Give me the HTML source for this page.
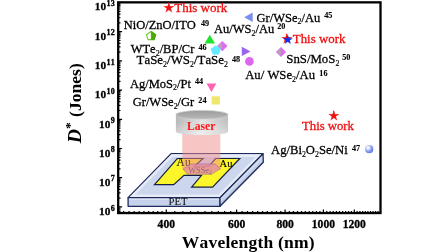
<!DOCTYPE html>
<html><head><meta charset="utf-8"><title>Detectivity vs Wavelength</title>
<style>
html,body{margin:0;padding:0;background:#fff;}
body{width:448px;height:252px;overflow:hidden;position:relative;font-family:"Liberation Serif",serif;}
svg{position:absolute;left:0;top:0;display:block}
text{font-family:"Liberation Serif",serif;font-kerning:none;}
.b{font-weight:bold}
.tl{stroke:#000;stroke-width:0.3px}
.lab{fill:#000;stroke:#000;stroke-width:0.28px}
.sup{font-size:8.2px;fill:#000;font-weight:bold;stroke-width:0.1px}
.sub{font-size:7.9px;stroke-width:0.15px}
.red{fill:#f01010;stroke:#f01010;stroke-width:0.3px}
</style></head><body>
<svg width="448" height="252" viewBox="0 0 448 252">
<defs>
<linearGradient id="cyl" x1="0" y1="0" x2="1" y2="0"><stop offset="0" stop-color="#b8b8b8"/><stop offset="0.5" stop-color="#e4e4e4"/><stop offset="1" stop-color="#c0c0c0"/></linearGradient>
<linearGradient id="cyltop" x1="0" y1="0" x2="0" y2="1"><stop offset="0" stop-color="#9c9c9c"/><stop offset="1" stop-color="#b8b8b8"/></linearGradient>
<linearGradient id="side" gradientUnits="userSpaceOnUse" x1="240" y1="176" x2="246" y2="182"><stop offset="0" stop-color="#e4eaf6"/><stop offset="0.45" stop-color="#ccd6ec"/><stop offset="1" stop-color="#a3b2d3"/></linearGradient>
<linearGradient id="cylv" x1="0" y1="0" x2="0" y2="1"><stop offset="0.35" stop-color="#fff" stop-opacity="0"/><stop offset="1" stop-color="#fff" stop-opacity="0.4"/></linearGradient>
<radialGradient id="ball" cx="0.36" cy="0.32" r="0.7"><stop offset="0" stop-color="#ffffff"/><stop offset="0.25" stop-color="#dfe5ff"/><stop offset="0.6" stop-color="#8c9ff0"/><stop offset="1" stop-color="#5f78e6"/></radialGradient>
</defs>
<rect x="0" y="0" width="448" height="252" fill="#fff"/>

<path d="M166.30 212.7V209.5 M236.60 212.7V209.5 M285.10 212.7V209.5 M323.40 212.7V209.5 M354.30 212.7V209.5 M123.68 212.7V210.9 M128.99 212.7V210.9 M134.14 212.7V210.9 M139.13 212.7V210.9 M143.97 212.7V210.9 M148.68 212.7V210.9 M153.26 212.7V210.9 M157.72 212.7V210.9 M162.07 212.7V210.9 M174.76 212.7V210.9 M182.82 212.7V210.9 M190.53 212.7V210.9 M197.91 212.7V210.9 M204.99 212.7V210.9 M211.79 212.7V210.9 M218.33 212.7V210.9 M224.64 212.7V210.9 M230.72 212.7V210.9 M242.13 212.7V210.9 M247.48 212.7V210.9 M252.67 212.7V210.9 M257.70 212.7V210.9 M262.59 212.7V210.9 M267.34 212.7V210.9 M271.96 212.7V210.9 M276.45 212.7V210.9 M280.83 212.7V210.9 M289.34 212.7V210.9 M293.47 212.7V210.9 M297.51 212.7V210.9 M301.46 212.7V210.9 M305.32 212.7V210.9 M309.09 212.7V210.9 M312.78 212.7V210.9 M316.39 212.7V210.9 M319.93 212.7V210.9 M326.76 212.7V210.9 M330.05 212.7V210.9 M333.28 212.7V210.9 M336.44 212.7V210.9 M339.55 212.7V210.9 M342.61 212.7V210.9 M345.61 212.7V210.9 M348.55 212.7V210.9 M351.45 212.7V210.9 M357.11 212.7V210.9 M359.87 212.7V210.9 M362.59 212.7V210.9 M365.27 212.7V210.9 M367.90 212.7V210.9 M370.50 212.7V210.9 M373.06 212.7V210.9 M375.57 212.7V210.9 M378.05 212.7V210.9" stroke="#000" stroke-width="1.2" fill="none"/>
<path d="M118.2 206.90H122.1 M118.2 198.11H120.5 M118.2 192.97H120.5 M118.2 189.32H120.5 M118.2 186.49H120.5 M118.2 184.18H120.5 M118.2 182.22H120.5 M118.2 180.53H120.5 M118.2 179.04H120.5 M118.2 177.70H122.1 M118.2 168.91H120.5 M118.2 163.77H120.5 M118.2 160.12H120.5 M118.2 157.29H120.5 M118.2 154.98H120.5 M118.2 153.02H120.5 M118.2 151.33H120.5 M118.2 149.84H120.5 M118.2 148.50H122.1 M118.2 139.71H120.5 M118.2 134.57H120.5 M118.2 130.92H120.5 M118.2 128.09H120.5 M118.2 125.78H120.5 M118.2 123.82H120.5 M118.2 122.13H120.5 M118.2 120.64H120.5 M118.2 119.30H122.1 M118.2 110.51H120.5 M118.2 105.37H120.5 M118.2 101.72H120.5 M118.2 98.89H120.5 M118.2 96.58H120.5 M118.2 94.62H120.5 M118.2 92.93H120.5 M118.2 91.44H120.5 M118.2 90.10H122.1 M118.2 81.31H120.5 M118.2 76.17H120.5 M118.2 72.52H120.5 M118.2 69.69H120.5 M118.2 67.38H120.5 M118.2 65.42H120.5 M118.2 63.73H120.5 M118.2 62.24H120.5 M118.2 60.90H122.1 M118.2 52.11H120.5 M118.2 46.97H120.5 M118.2 43.32H120.5 M118.2 40.49H120.5 M118.2 38.18H120.5 M118.2 36.22H120.5 M118.2 34.53H120.5 M118.2 33.04H120.5 M118.2 31.70H122.1 M118.2 22.91H120.5 M118.2 17.77H120.5 M118.2 14.12H120.5 M118.2 11.29H120.5 M118.2 8.98H120.5 M118.2 7.02H120.5 M118.2 5.33H120.5 M118.2 3.84H120.5 M118.2 2.50H122.1 M118.2 211.42H120.5 M118.2 209.73H120.5 M118.2 208.24H120.5" stroke="#000" stroke-width="1.2" fill="none"/>
<rect x="118.2" y="2.35" width="262.3" height="210.7" fill="none" stroke="#000" stroke-width="2.3"/>
<text class="b tl" x="166.3" y="227.8" font-size="11.6" text-anchor="middle">400</text>
<text class="b tl" x="236.6" y="227.8" font-size="11.6" text-anchor="middle">600</text>
<text class="b tl" x="285.1" y="227.8" font-size="11.6" text-anchor="middle">800</text>
<text class="b tl" x="323.4" y="227.8" font-size="11.6" text-anchor="middle">1000</text>
<text class="b tl" x="354.3" y="227.8" font-size="11.6" text-anchor="middle">1200</text>
<text class="b" x="248.3" y="248.2" font-size="17.5" letter-spacing="0.22" text-anchor="middle">Wavelength (nm)</text>
<text class="b tl" x="115" y="215.1" font-size="11.3" letter-spacing="0.25" text-anchor="end">10<tspan dy="-4.5" font-size="8">6</tspan></text>
<text class="b tl" x="115" y="185.9" font-size="11.3" letter-spacing="0.25" text-anchor="end">10<tspan dy="-4.5" font-size="8">7</tspan></text>
<text class="b tl" x="115" y="156.7" font-size="11.3" letter-spacing="0.25" text-anchor="end">10<tspan dy="-4.5" font-size="8">8</tspan></text>
<text class="b tl" x="115" y="127.5" font-size="11.3" letter-spacing="0.25" text-anchor="end">10<tspan dy="-4.5" font-size="8">9</tspan></text>
<text class="b tl" x="115" y="98.3" font-size="11.3" letter-spacing="0.25" text-anchor="end">10<tspan dy="-4.5" font-size="8">10</tspan></text>
<text class="b tl" x="115" y="69.1" font-size="11.3" letter-spacing="0.25" text-anchor="end">10<tspan dy="-4.5" font-size="8">11</tspan></text>
<text class="b tl" x="115" y="39.9" font-size="11.3" letter-spacing="0.25" text-anchor="end">10<tspan dy="-4.5" font-size="8">12</tspan></text>
<text class="b tl" x="115" y="10.2" font-size="11.3" letter-spacing="0.25" text-anchor="end">10<tspan dy="-4.5" font-size="8">13</tspan></text>
<text class="b" transform="translate(81.3,103.2) rotate(-90)" font-size="17.6" text-anchor="middle"><tspan font-style="italic" font-size="19.8">D</tspan><tspan dy="-7.6" font-size="13.5">*</tspan><tspan dy="7.6" dx="0.8"> (Jones)</tspan></text><!-- illustration: substrate -->
<g id="device">
<polygon points="128.1,197.7 171.1,153.7 263,153.7 220,197.7" fill="#ccd6ec" stroke="#1c2b5c" stroke-width="1.3" stroke-linejoin="round"/>
<polygon points="132.4,195.9 172,155.6 258.6,155.6 219,195.9" fill="none" stroke="#e6ebf7" stroke-width="2.6"/>
<polygon points="128.1,197.7 220,197.7 220,206.3 128.1,206.3" fill="#c6d2eb" stroke="#1c2b5c" stroke-width="1.3" stroke-linejoin="round"/>
<path d="M129 199.2H219.2" stroke="#e3e9f6" stroke-width="1"/>
<polygon points="220,197.7 263,153.7 263.3,162.3 220,206.3" fill="url(#side)" stroke="#1c2b5c" stroke-width="1.3" stroke-linejoin="round"/>
<polygon points="177.3,158.5 203,158.5 194.2,166.3 208.9,166.3 215.6,158.5 239.8,158.5 212.6,187.2 191.6,187.2 201.5,175.3 184,175.3 173.7,184.6 154.5,184.6" fill="#fbf52a" stroke="#16204a" stroke-width="1.2" stroke-linejoin="miter"/>
<text x="176.6" y="166.4" font-size="11.5" stroke="#000" stroke-width="0.12">Au</text>
<text x="219.6" y="166.6" font-size="10.5" stroke="#000" stroke-width="0.12">Au</text>
<text x="178" y="205.3" font-size="10.6" text-anchor="middle" >PET</text>
</g>
<!-- laser beam -->
<rect x="182.3" y="132" width="38" height="38" fill="#f28c8c" fill-opacity="0.5"/>
<path d="M183.2 169L190.5 164H215L220.4 168.6L211.5 174.3H187.5Z" fill="#e8919f" fill-opacity="0.82" stroke="#7d4fa0" stroke-opacity="0.6" stroke-width="0.7"/>
<text x="200" y="172.6" font-size="8.4" text-anchor="middle" fill="#8c5f80" fill-opacity="0.95">WSSe<tspan dy="1.5" font-size="5.6">2</tspan></text>
<!-- laser cylinder -->
<g id="laser">
<path d="M175.9 114.7V131.6A26.05 3.4 0 0 0 228 131.6V114.7Z" fill="url(#cyl)"/>
<path d="M175.9 114.7V131.6A26.05 3.4 0 0 0 228 131.6V114.7Z" fill="url(#cylv)"/>
<ellipse cx="201.95" cy="114.7" rx="26.05" ry="4.3" fill="url(#cyltop)" stroke="#c9c9c9" stroke-width="0.6"/>
<text x="201.2" y="129.7" font-size="11.6" text-anchor="middle" fill="#ff1515" class="b">Laser</text>
</g>
<!-- markers -->
<g id="markers">
<polygon points="151.1,31.5 155.8,34.7 154.2,39.6 148,39.6 146.4,34.7" fill="#fff" stroke="#6cc820" stroke-width="1.05" stroke-linejoin="round"/>
<polygon points="151.4,31.5 155.8,34.7 154.2,39.6 151.4,39.6" fill="#4aa808" stroke="#4aa808" stroke-width="1" stroke-linejoin="round"/>
<polygon points="209.8,34.8 215,43.6 204.6,43.6" fill="#1fe42c"/>
<polygon points="222.3,40.9 227.5,46.1 222.3,51.3 217.1,46.1" fill="#dd6cee"/>
<polygon points="221.9,42.6 221.9,49.6 218.4,46.1" fill="#a9b3a4"/>
<polygon points="215.8,45.2 220.9,48.9 218.9,54.6 212.7,54.6 210.7,48.9" fill="#63eaff"/>
<polygon points="252.7,12.6 252.7,22 244.2,17.3" fill="#7b8df2"/>
<polygon points="241.8,46.8 250.5,51.4 241.8,56" fill="#9b62f2"/>
<circle cx="249.4" cy="61.4" r="4.3" fill="#dd66ee"/>
<polygon points="281,46.9 286.1,52 281,57.1 275.9,52" fill="#dd6cee"/>
<polygon points="280.6,48.6 280.6,55.4 277.2,52" fill="#a9b3a4"/>
<polygon points="206.5,83.6 216.4,83.6 211.45,92.1" fill="#ff62b4"/>
<rect x="211.7" y="96.3" width="8.2" height="8.2" fill="#efe66e"/>
<circle cx="369.2" cy="149.2" r="4.1" fill="url(#ball)"/>
</g>
<g id="stars">
<text x="169.3" y="12.3" font-size="13.4" text-anchor="middle" class="red">★</text>
<text x="287" y="42.6" font-size="13.4" text-anchor="middle" class="red">★</text>
<text x="287.6" y="44.2" font-size="13.4" text-anchor="middle" fill="#1030e8">★</text>
<text x="333.8" y="119.6" font-size="13.2" text-anchor="middle" class="red">★</text>
</g>
<!-- labels -->
<g id="labels">
<text x="174.2" y="12" font-size="13" class="red">This work</text>
<text x="292.8" y="42.8" font-size="12.9" class="red">This work</text>
<text x="302.1" y="129.7" font-size="12.7" class="red">This work</text>
<text class="lab" id="l1" x="123.7" y="28.8" font-size="12.5"><tspan id="l1p0">NiO/ZnO/ITO</tspan><tspan id="l1p1" class="sup" dx="5" dy="-3.30">49</tspan></text>
<text class="lab" id="l2" x="130.7" y="52.8" font-size="12.5"><tspan id="l2p0">WTe</tspan><tspan id="l2p1" class="sub" dy="2.80">2</tspan><tspan id="l2p2" dy="-2.80">/BP/Cr</tspan><tspan id="l2p3" class="sup" dx="4" dy="-3.10">46</tspan></text>
<text class="lab" id="l3" x="136.6" y="64.0" font-size="12.9"><tspan id="l3p0">TaSe</tspan><tspan id="l3p1" class="sub" dy="3.40">2</tspan><tspan id="l3p2" dy="-3.40">/WS</tspan><tspan id="l3p3" class="sub" dy="3.40">2</tspan><tspan id="l3p4" dy="-3.40">/TaSe</tspan><tspan id="l3p5" class="sub" dy="3.40">2</tspan><tspan id="l3p6" class="sup" dx="4" dy="-5.80">48</tspan></text>
<text class="lab" id="l4" x="130.0" y="87.5" font-size="12.5"><tspan id="l4p0">Ag/MoS</tspan><tspan id="l4p1" class="sub" dy="2.80">2</tspan><tspan id="l4p2" dy="-2.80">/Pt</tspan><tspan id="l4p3" class="sup" dx="4" dy="-3.10">44</tspan></text>
<text class="lab" id="l5" x="132.7" y="106.2" font-size="12.5"><tspan id="l5p0">Gr/WSe</tspan><tspan id="l5p1" class="sub" dy="2.80">2</tspan><tspan id="l5p2" dy="-2.80">/Gr</tspan><tspan id="l5p3" class="sup" dx="4" dy="-3.10">24</tspan></text>
<text class="lab" id="l6" x="256.6" y="21.5" font-size="12.5"><tspan id="l6p0">Gr/WSe</tspan><tspan id="l6p1" class="sub" dy="2.80">2</tspan><tspan id="l6p2" dy="-2.80">/Au</tspan><tspan id="l6p3" class="sup" dx="4" dy="-3.60">45</tspan></text>
<text class="lab" id="l7" x="214.0" y="32.8" font-size="12.5"><tspan id="l7p0">Au/WS</tspan><tspan id="l7p1" class="sub" dy="2.80">2</tspan><tspan id="l7p2" dy="-2.80">/Au</tspan><tspan id="l7p3" class="sup" dx="3" dy="-3.60">20</tspan></text>
<text class="lab" id="l8" x="286.3" y="62.5" font-size="12.8"><tspan id="l8p0">SnS/MoS</tspan><tspan id="l8p1" class="sub" dy="3.40">2</tspan><tspan id="l8p2" class="sup" dx="2.8" dy="-6.30">50</tspan></text>
<text class="lab" id="l9" x="245.2" y="79.3" font-size="12.7"><tspan id="l9p0">Au/ WSe</tspan><tspan id="l9p1" class="sub" dy="2.80">2</tspan><tspan id="l9p2" dy="-2.80">/Au</tspan><tspan id="l9p3" class="sup" dx="4.3" dy="-3.60">16</tspan></text>
<text class="lab" id="l10" x="271.0" y="154.4" font-size="12.65"><tspan id="l10p0">Ag/Bi</tspan><tspan id="l10p1" class="sub" dy="2.80">2</tspan><tspan id="l10p2" dy="-2.80">O</tspan><tspan id="l10p3" class="sub" dy="2.80">2</tspan><tspan id="l10p4" dy="-2.80">Se/Ni</tspan><tspan id="l10p5" class="sup" dx="4.2" dy="-3.60">47</tspan></text>
</g>
</svg>
</body></html>
